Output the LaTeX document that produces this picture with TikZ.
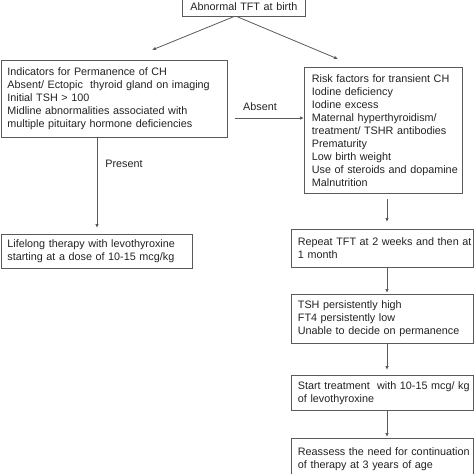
\documentclass[tikz,border=0pt]{standalone}
\usepackage{fontspec}
\setmainfont{Liberation Sans}
\usetikzlibrary{arrows.meta}
\definecolor{ln}{HTML}{5A5A5A}
\definecolor{tx}{HTML}{222222}
\newcommand{\oneline}[1]{\mbox{#1}}
\begin{document}
\begin{tikzpicture}[x=1pt,y=-1pt,
  fbox/.style={draw=ln, line width=0.8pt, inner xsep=6.5pt, inner ysep=2pt, align=left,
    anchor=north west, text=tx, font=\fontsize{10.8}{13}\selectfont},
  arr/.style={draw=ln, line width=0.8pt, -{Latex[length=4pt,width=3.5pt]}},
  lbl/.style={text=tx, font=\fontsize{10.8}{13}\selectfont}]
\useasboundingbox (0,0) rectangle (474,474);
\node[fbox, align=center, text width=110pt, minimum height=19pt] (top) at (182,-3) {Abnormal TFT at birth};
\node[fbox, text width=213.5pt, minimum height=77pt] (ind) at (0.5,60) {\oneline{Indicators for Permanence of CH}\\\oneline{Absent/ Ectopic\ \ thyroid gland on imaging}\\\oneline{Initial TSH > 100}\\\oneline{Midline abnormalities associated with}\\\oneline{multiple pituitary hormone deficiencies}};
\node[fbox, inner xsep=7.5pt, text width=143pt, minimum height=126pt] (risk) at (304,67) {\oneline{Risk factors for transient CH}\\\oneline{Iodine deficiency}\\\oneline{Iodine excess}\\\oneline{Maternal hyperthyroidism/}\\\oneline{treatment/ TSHR antibodies}\\\oneline{Prematurity}\\\oneline{Low birth weight}\\\oneline{Use of steroids and dopamine}\\\oneline{Malnutrition}};
\node[fbox, text width=178.5pt, minimum height=34pt] (life) at (0.5,234) {\oneline{Lifelong therapy with levothyroxine}\\\oneline{starting at a dose of 10-15 mcg/kg}};
\node[fbox, text width=169pt, minimum height=38pt] (rep) at (291,229) {\oneline{Repeat TFT at 2 weeks and then at}\\\oneline{1 month}};
\node[fbox, text width=169pt, minimum height=49pt] (tsh) at (291,294) {\oneline{TSH persistently high}\\\oneline{FT4 persistently low}\\\oneline{Unable to decide on permanence}};
\node[fbox, text width=169pt, minimum height=35pt] (start) at (291,375) {\oneline{Start treatment\ \ with 10-15 mcg/ kg}\\\oneline{of levothyroxine}};
\node[fbox, text width=169pt, minimum height=42pt] (re) at (291,438) {\oneline{Reassess the need for continuation}\\\oneline{of therapy at 3 years of age}};
\coordinate (c1) at (152,50);
\coordinate (c2) at (338,59);
\draw[arr] ([xshift=-10.5pt]top.south) -- (c1);
\draw[arr] ([xshift=-6.5pt]top.south) -- (c2);
\draw[arr] ([xshift=7pt]ind.east |- 0,118) -- (risk.west |- 0,118);
\node[lbl] (absent) at (260,107) {Absent};
\draw[arr] (ind.south -| 97,0) -- ([yshift=6pt]life.north -| 97,0);
\node[lbl] (present) at (124,164) {Present};
\draw[arr] ([yshift=-5pt]risk.south -| 387,0) -- ([yshift=7pt]rep.north -| 387,0);
\draw[arr] (rep.south -| 387,0) -- ([yshift=1pt]tsh.north -| 387,0);
\draw[arr] (tsh.south -| 387,0) -- ([yshift=5pt]start.north -| 387,0);
\draw[arr] (start.south -| 387,0) -- ([yshift=1pt]re.north -| 387,0);
\end{tikzpicture}
\end{document}
